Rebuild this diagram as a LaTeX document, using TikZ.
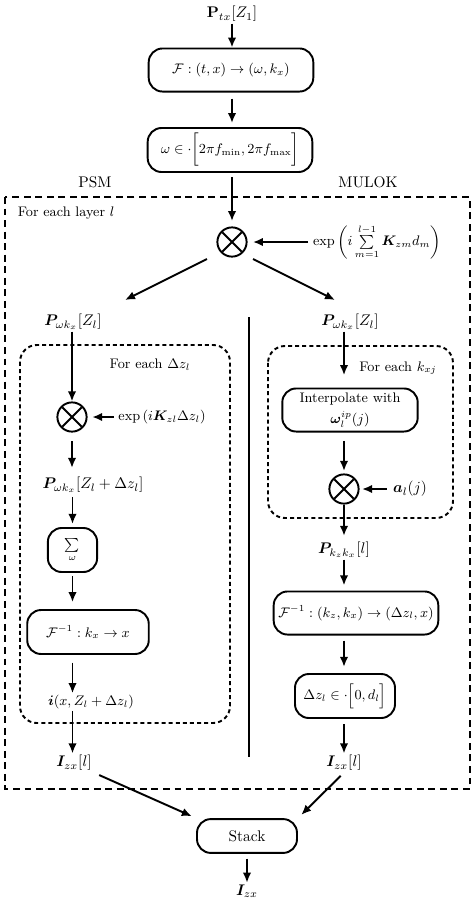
\documentclass[tikz,border=0pt]{standalone}
\usepackage{amsmath,amssymb,bm}
\usetikzlibrary{arrows.meta}
\begin{document}
\begin{tikzpicture}[x=0.65pt,y=-0.65pt,
  lw/.style={line width=1.25pt},
  arr/.style={lw,-{Latex[length=6.5pt,width=5.5pt]}},
  box/.style={draw,lw,rounded corners=9pt,align=center,inner sep=2pt,font=\small},
  lab/.style={inner sep=1pt},
  note/.style={font=\small,inner sep=1pt},
  mult/.style={draw,lw,circle,minimum size=19pt,inner sep=0pt,
    path picture={\draw[lw] (path picture bounding box.center) +(-6.3pt,-6.3pt) -- +(6.3pt,6.3pt)
      (path picture bounding box.center) +(-6.3pt,6.3pt) -- +(6.3pt,-6.3pt);}},
  outerbox/.style={lw,dash pattern=on 4.5pt off 3pt},
  innerbox/.style={lw,dash pattern=on 2.6pt off 2pt,rounded corners=11pt}]
\useasboundingbox (0,0) rectangle (474,901);

% top
\node[lab] (ptx) at (232,14) {$\mathbf{P}_{tx}[Z_1]$};
\node[box,minimum width=107pt,minimum height=28pt] (f1) at (231,70) {$\mathcal{F}:(t,x)\rightarrow(\omega,k_x)$};
\node[box,minimum width=107pt,minimum height=28.6pt] (f2) at (230,150) {$\omega\in\cdot\bigg[2\pi f_{\min},2\pi f_{\max}\bigg]$};
\node (psm) at (95,182) {PSM};
\node (mulok) at (368,182) {MULOK};

\draw[outerbox] (5,197) rectangle (470,789);
\node[note,anchor=west] (layer) at (16,213) {For each layer $l$};

\node[mult] (ot0) at (232,242) {};
\node[note,inner sep=3pt] (exp0) at (377,242) {$\exp\left(i\sum\limits_{m=1}^{l-1}\bm{K}_{zm}d_m\right)$};

\coordinate (dl0) at (207,259);
\coordinate (dl1) at (125,300);
\coordinate (dr0) at (253,259);
\coordinate (dr1) at (335,300);

\node[lab] (pl) at (73,322) {$\bm{P}_{\omega k_x}[Z_l]$};
\node[lab] (pr) at (350,322) {$\bm{P}_{\omega k_x}[Z_l]$};
\coordinate (s0) at (249,317);
\coordinate (s1) at (249,757);
\draw[lw] (s0) -- (s1);

% left column
\draw[innerbox] (20,345) rectangle (230,723);
\node[note] (fdz) at (150,365) {For each $\Delta z_l$};
\node[mult] (ot1) at (72,417) {};
\node[note,inner sep=3pt] (exp1) at (162,417) {$\exp\left(i\bm{K}_{zl}\Delta z_l\right)$};
\node[lab] (pdz) at (93,485) {$\bm{P}_{\omega k_x}[Z_l+\Delta z_l]$};
\node[box,minimum width=32pt,minimum height=28.6pt,inner sep=1pt] (sum) at (72.5,550) {$\sum\limits_{\omega}$};
\node[box,minimum width=79pt,minimum height=28.6pt] (finv1) at (88,632) {$\mathcal{F}^{-1}:k_x\rightarrow x$};
\node[note] (ival) at (91,702) {$\bm{i}(x,Z_l+\Delta z_l)$};
\node[lab] (izl) at (74,763) {$\bm{I}_{zx}[l]$};

% right column
\draw[innerbox] (268,346) rectangle (453,518);
\node[note] (fkx) at (398,368) {For each $k_{xj}$};
\node[box,minimum width=88pt,minimum height=28pt,inner sep=1pt] (interp) at (350,410) {Interpolate with\\[3pt]$\bm{\omega}_l^{ip}(j)$};
\node[mult] (ot2) at (344,489) {};
\node[lab,inner sep=4pt] (al) at (410,489) {$\bm{a}_l(j)$};
\node[lab] (pkk) at (344,550) {$\bm{P}_{k_zk_x}[l]$};
\node[box,minimum width=107pt,minimum height=28pt] (finv2) at (356,613) {$\mathcal{F}^{-1}:(k_z,k_x)\rightarrow(\Delta z_l,x)$};
\node[box,minimum width=65pt,minimum height=28.6pt] (dz) at (345,696) {$\Delta z_l\in\cdot\Big[0,d_l\Big]$};
\node[lab] (izr) at (344,763) {$\bm{I}_{zx}[l]$};

% bottom
\node[box,font=\normalsize,minimum width=65pt,minimum height=22pt] (stack) at (247,836) {Stack};
\node[lab] (izx) at (247,891) {$\bm{I}_{zx}$};

% arrows
\draw[arr] (ptx) -- (f1.north -| ptx);
\draw[arr,shorten <=4pt,shorten >=2.6pt] (f1.south -| ptx) -- (f2.north -| ptx);
\draw[arr,shorten <=2.6pt,shorten >=3.5pt] (f2.south -| ot0) -- (ot0);
\draw[arr,shorten >=3.5pt] (exp0) -- (ot0);
\draw[arr] (dl0) -- (dl1);
\draw[arr] (dr0) -- (dr1);

\draw[arr] (pl.south -| ot1) -- (ot1);
\draw[arr,shorten <=5.5pt,shorten >=4.9pt] (ot1) -- (pdz.north -| ot1);
\draw[arr,shorten >=3pt] (exp1) -- (ot1);
\draw[arr,shorten <=1.5pt,shorten >=2pt] (pdz.south -| sum) -- (sum);
\draw[arr,shorten <=2pt,shorten >=4.5pt] (sum) -- (finv1.north -| sum);
\draw[arr,shorten <=5pt] (finv1.south -| sum) -- (ival.north -| sum);
\draw[arr] (ival.south -| sum) -- (izl.north -| sum);

\draw[arr,shorten >=8pt] (pr.south -| ot2) -- (interp.north -| ot2);
\draw[arr,shorten <=5.5pt,shorten >=1.6pt] (interp.south -| ot2) -- (ot2);
\draw[arr,shorten >=1.6pt] (al) -- (ot2);
\draw[arr,shorten >=3pt] (ot2) -- (pkk);
\draw[arr,shorten >=3.3pt] (pkk) -- (finv2.north -| ot2);
\draw[arr,shorten <=3.3pt,shorten >=4pt] (finv2.south -| ot2) -- (dz.north -| ot2);
\draw[arr,shorten <=3.3pt] (dz.south -| ot2) -- (izr);

\draw[arr,shorten <=4pt,shorten >=3pt] (izl.south east) -- (stack.north west);
\draw[arr,shorten <=3pt,shorten >=3pt] (izr.south) -- (stack.north east);
\draw[arr,shorten <=3pt] (stack) -- (izx);
\end{tikzpicture}
\end{document}
